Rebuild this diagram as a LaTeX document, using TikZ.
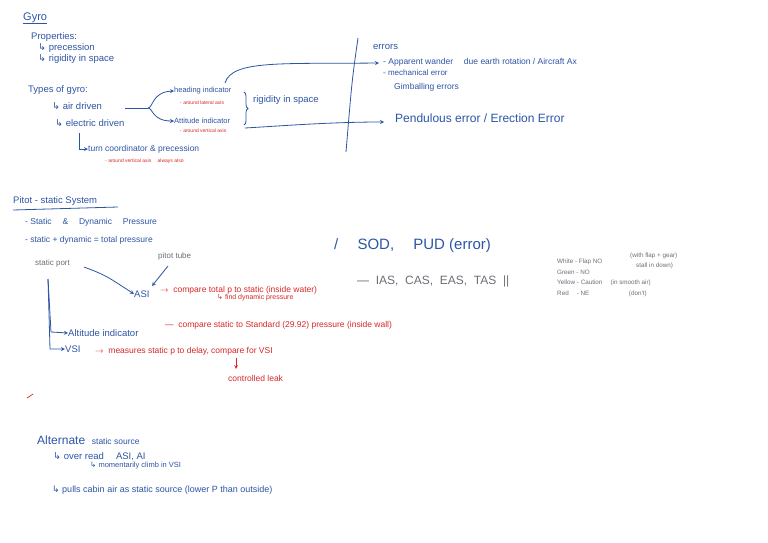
\documentclass[tikz,border=0pt]{standalone}
\usepackage{fontspec}
\setmainfont{Liberation Sans}
\newfontfamily\djv{DejaVu Sans}
\newcommand{\hk}{{\djv ↳}}
\usetikzlibrary{decorations.pathreplacing}
\definecolor{pen}{RGB}{45,85,165}
\definecolor{rpen}{RGB}{215,40,40}
\definecolor{gpen}{RGB}{110,110,120}
\tikzset{
 b/.style={text=pen,anchor=west,inner sep=0pt,font=\fontsize{9.5}{10}\selectfont},
 r/.style={text=rpen,anchor=west,inner sep=0pt,font=\fontsize{8.5}{9}\selectfont},
 rs/.style={text=rpen,anchor=west,inner sep=0pt,font=\fontsize{5}{6}\selectfont},
 g/.style={text=gpen,anchor=west,inner sep=0pt,font=\fontsize{8}{9}\selectfont},
 gs/.style={text=gpen,anchor=west,inner sep=0pt,font=\fontsize{6.3}{7}\selectfont},
 bl/.style={pen,line width=0.8pt},
 rl/.style={rpen,line width=0.7pt},
 arr/.style={bl,->,>=stealth}
}
\begin{document}
\begin{tikzpicture}[x=1pt,y=-1pt]
\useasboundingbox[fill=white] (0,0) rectangle (768,543);
% Gyro
\node[b,font=\fontsize{11}{12}\selectfont] (gyro) at (23,18) {Gyro};
\draw[bl] (gyro.south west) -- (gyro.south east);
\node[b] (prop) at (31,37) {Properties:};
\node[b] (prec) at (38,48) {\hk\ precession};
\node[b] (rig) at (38,59) {\hk\ rigidity in space};
\node[b] (types) at (28,90) {Types of gyro:};
\node[b] (air) at (52,106) {\hk\ air driven};
\node[b] (elec) at (55,123) {\hk\ electric driven};
\node[b,font=\fontsize{8.5}{9}\selectfont] (turn) at (88,149) {turn coordinator \& precession};
\node[rs] (turnr) at (105,161) {- around vertical axis \quad always also};
\draw[arr] (79,133) -- (79,149) -- (turn.west);
\node[b,font=\fontsize{7.5}{8}\selectfont] (head) at (174,91) {heading indicator};
\node[rs] (headr) at (180,103) {- around lateral axis};
\node[b,font=\fontsize{7.5}{8}\selectfont] (att) at (174,121) {Attitude indicator};
\node[rs] (attr) at (180,131) {- around vertical axis};
\coordinate (split) at (148,108);
\draw[bl] (125,108) -- (split);
\draw[arr] (split) .. controls (153,108) and (152,92) .. (head.west);
\draw[arr] (split) .. controls (153,108) and (152,121) .. (att.west);
\draw[bl,decorate,decoration={brace,amplitude=4pt}] (244,92) -- (244,125);
\node[b] (rigs) at (253,100) {rigidity in space};
% errors
\draw[bl] (358,38) .. controls (352,80) .. (346,152);
\node[b] (errs) at (373,47) {errors};
\node[b,font=\fontsize{8.5}{9}\selectfont] (app) at (383,62) {- Apparent wander \quad due earth rotation / Aircraft Ax};
\node[b,font=\fontsize{8}{9}\selectfont] (mech) at (383,73) {- mechanical error};
\node[b,font=\fontsize{8.5}{9}\selectfont] (gimb) at (394,87) {Gimballing errors};
\node[b,font=\fontsize{12}{13}\selectfont] (pend) at (395,118) {Pendulous error / Erection Error};
\coordinate (ea) at (379,63);
\coordinate (pa) at (384,122);
\draw[arr] (225,83) .. controls (232,60) and (280,64) .. (ea);
\draw[arr] (245,128) .. controls (280,126) and (330,122) .. (pa);
% Pitot-static
\node[b] (pss) at (13,201) {Pitot - static System};
\draw[bl] (13,210) -- (118,207);
\node[b,font=\fontsize{8.5}{9}\selectfont] (sdp) at (25,222) {- Static \quad \& \quad Dynamic \quad Pressure};
\node[b,font=\fontsize{8.5}{9}\selectfont] (sdt) at (25,240) {- static + dynamic = total pressure};
\node[g] (sport) at (35,263) {static port};
\node[g] (ptube) at (158,256) {pitot tube};
\node[b] (asi) at (134,294) {ASI};
\draw[arr] (84,267) .. controls (105,275) .. (asi.west);
\draw[arr] (168,266) -- (152,286);
\node[r] (asir) at (160,290) {$\rightarrow$ \ compare total p to static (inside water)};
\node[r,font=\fontsize{7}{8}\selectfont] (asir2) at (217,298) {\hk\ find dynamic pressure};
\node[g,font=\fontsize{12}{13}\selectfont] (ias) at (357,281) {— \ IAS, \ CAS, \ EAS, \ TAS \ ||};
\node[b,font=\fontsize{15}{16}\selectfont] (sod) at (334,246) {/ \quad SOD, \quad PUD (error)};
\node[gs,align=left] (leg1) at (557,262) {White - Flap NO};
\node[gs] (leg1b) at (630,256) {(with flap + gear)};
\node[gs] (leg1c) at (636,266) {stall in down)};
\node[gs] (leg2) at (557,272) {Green - NO};
\node[gs] (leg3) at (557,283) {Yellow - Caution \quad (in smooth air)};
\node[gs] (leg4) at (557,294) {Red \quad - NE \qquad\qquad\qquad (don't)};
\node[b] (alt) at (68,333) {Altitude indicator};
\node[r] (altr) at (165,325) {— \ compare static to Standard (29.92) pressure (inside wall)};
\node[b] (vsi) at (65,349) {VSI};
\node[r] (vsir) at (95,351) {$\rightarrow$ \ measures static p to delay, compare for VSI};
\draw[arr] (48,279) -- (51,332) -- (alt.west);
\draw[bl,->,>=stealth] (48,279) -- (50,349) -- (vsi.west);
\node[r] (leak) at (228,378) {controlled leak};
\draw[rl,->,>=stealth] (236,358) -- (236,369);
\draw[rl] (27,398) -- (33,394);
% alternate
\node[b,font=\fontsize{12}{13}\selectfont] (alts) at (37,440) {Alternate \ {\fontsize{8.5}{9}\selectfont static source}};
\node[b] (or) at (53,457) {\hk\ over read \quad ASI, AI};
\node[b,font=\fontsize{7.5}{8}\selectfont] (mc) at (90,466) {\hk\ momentarily climb in VSI};
\node[b,font=\fontsize{9}{10}\selectfont] (pc) at (52,490) {\hk\ pulls cabin air as static source (lower P than outside)};
\end{tikzpicture}
\end{document}
